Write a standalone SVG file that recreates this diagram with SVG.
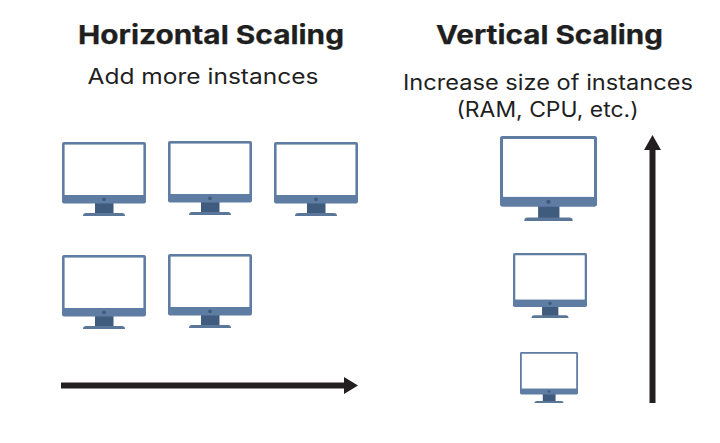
<svg xmlns="http://www.w3.org/2000/svg" width="720" height="443" viewBox="0 0 720 443">
<style>
text{font-family:"Inter","Liberation Sans",sans-serif;fill:#1f1f1f;text-anchor:middle}
.t{font-size:26px;font-weight:700;stroke:#1f1f1f;stroke-width:.25px}
.s{font-size:21px;font-weight:400}
.f{fill:#5f7da3}
.d{fill:#3f5b7d}
.b{fill:#5a7698}
.w{fill:#fff}
.a{fill:#231f20}
</style>
<defs>
<symbol id="monitor" viewBox="0 0 84 74" preserveAspectRatio="none">
<rect class="d" x="33" y="60" width="18.500" height="12"/>
<path class="b" d="M21 74q0-3 3-3h36q3 0 3 3z"/>
<rect class="f" x="0" y="0" width="84" height="61.500" rx="2"/>
<rect class="w" x="2.600" y="2.600" width="78.800" height="50.400"/>
<circle class="d" cx="42" cy="57.300" r="1.900"/>
</symbol>
</defs>
<rect width="720" height="443" fill="#fff"/>
<g id="title-horizontal"><text class="t" x="211" y="44" textLength="266" lengthAdjust="spacingAndGlyphs">Horizontal Scaling</text></g>
<g id="title-vertical"><text class="t" x="549.500" y="44" textLength="227" lengthAdjust="spacingAndGlyphs">Vertical Scaling</text></g>
<g id="label-horizontal"><text class="s" x="203" y="84" textLength="231" lengthAdjust="spacingAndGlyphs">Add more instances</text></g>
<g id="label-vertical"><text class="s" x="548" y="90" textLength="290" lengthAdjust="spacingAndGlyphs">Increase size of instances</text><text class="s" x="547.500" y="117" textLength="182" lengthAdjust="spacingAndGlyphs">(RAM, CPU, etc.)</text></g>
<g id="h1"><use href="#monitor" x="62" y="142" width="84" height="74"/></g>
<g id="h2"><use href="#monitor" x="168" y="141" width="84" height="74"/></g>
<g id="h3"><use href="#monitor" x="274" y="142" width="84" height="74"/></g>
<g id="h4"><use href="#monitor" x="62" y="255" width="84" height="74"/></g>
<g id="h5"><use href="#monitor" x="168" y="254" width="84" height="74"/></g>
<g id="v-large"><use href="#monitor" x="500" y="136" width="97" height="85"/></g>
<g id="v-medium"><use href="#monitor" x="513" y="253" width="74" height="65"/></g>
<g id="v-small"><use href="#monitor" x="520" y="352" width="58" height="51"/></g>
<g id="connectors">
<path class="a" d="M61 382.500H344V377L358 385.500 344 394V388.500H61z"/>
<path class="a" d="M649.500 403V150H644L652.500 135 661 150H655.500V403z"/>
</g>
</svg>
